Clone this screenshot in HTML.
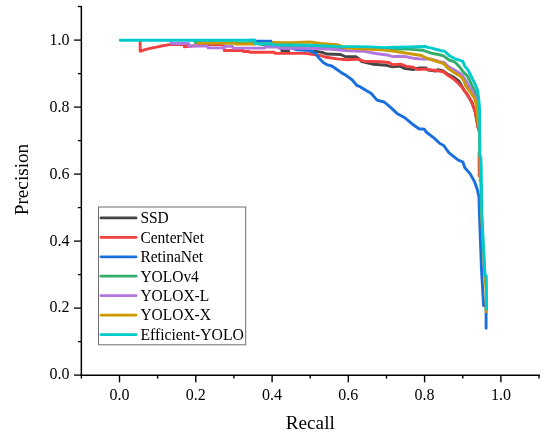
<!DOCTYPE html>
<html><head><meta charset="utf-8"><title>PR curves</title>
<style>
html,body{margin:0;padding:0;background:#fff;}
svg{display:block;}
text{font-family:"Liberation Serif",serif;fill:#000;}
.tk{font-size:16px;}
.lg{font-size:16px;}
.ax{font-size:19.2px;}
</style></head><body>
<svg width="550" height="438" viewBox="0 0 550 438">
<rect width="550" height="438" fill="#fff"/>

<g fill="none" stroke-width="2.9" stroke-linejoin="round" stroke-linecap="round">
<path stroke="#454545" d="M281.7,49.0L281.8,50.6L288.5,50.6L288.7,52.4M311.0,53.0L312.0,52.0L314.4,51.3L322.0,52.4L326.4,54.0L340.5,54.5L345.0,56.5L355.8,56.6L359.0,59.0L361.8,61.6L372.7,64.2L386.4,65.3L392.7,66.9L399.5,66.0L404.0,68.2L413.2,69.5L419.5,68.0L426.0,68.0L428.0,70.0L436.0,71.0L437.7,69.7L442.7,70.7L447.0,73.8L453.7,77.2L459.0,81.2L462.0,86.5L464.0,90.0L467.4,94.7L471.8,102.3L475.3,112.0L477.0,121.5L477.9,127.0"/>
<path stroke="#F14040" d="M140.1,40.6L140.2,51.3L145.0,49.7L150.0,48.4L160.0,46.3L169.5,44.6L184.0,44.2L184.3,46.8L207.7,44.6L223.5,44.6L224.3,50.5L243.0,50.5L243.4,51.5L249.0,51.5L249.5,52.3L274.5,52.3L275.0,53.3L305.8,53.4L310.0,54.0L320.9,55.6L326.4,57.3L337.3,58.9L346.0,59.8L355.8,59.2L359.0,59.4L363.6,61.2L380.0,61.6L389.0,62.5L392.7,64.8L400.5,64.1L406.8,66.4L413.2,67.3L417.7,69.5L425.0,69.1L436.0,70.5L443.6,71.8L448.2,75.5L453.7,79.1L458.2,83.2L462.0,87.4L467.4,94.7L471.8,102.3L475.3,112.0L477.0,121.5L477.9,127.0L479.5,133.0L479.6,151.0L479.1,152.5L479.2,176.0"/>
<path stroke="#1A6FDF" d="M250.0,40.3L255.0,40.3L255.5,41.2L271.0,41.2L271.5,44.5L285.0,45.0L290.0,47.5L297.0,49.9L310.0,50.6L315.5,53.4L318.7,57.8L323.0,62.2L327.4,64.9L331.8,66.0L337.3,69.8L342.7,73.6L345.0,74.6L352.3,80.0L356.9,85.5L359.6,86.4L368.7,91.9L371.5,93.7L377.0,100.1L384.2,102.0L390.6,107.4L397.0,113.4L404.3,117.4L412.5,124.2L418.9,128.8L424.4,129.3L426.2,132.0L434.4,138.4L439.9,143.5L443.7,145.5L449.0,152.9L458.3,160.2L462.9,162.0L464.7,167.5L470.2,173.9L474.7,182.0L477.5,190.3L479.0,197.6L479.3,210.0L481.5,270.0L483.6,305.5L486.1,306.0L486.1,328.2"/>
<path stroke="#37AD6B" d="M194.8,40.6L195.3,42.6L255.0,43.2L268.0,45.5L282.0,46.0L295.0,46.3L340.0,47.5L385.0,48.7L395.0,49.1L408.6,49.1L422.3,50.2L431.4,53.2L438.6,54.5L443.6,55.9L449.1,60.0L454.6,61.8L459.2,66.4L462.8,71.4L467.4,76.0L471.0,83.3L474.2,89.7L476.0,94.3L478.0,102.0L479.4,118.0L479.7,150.0"/>
<path stroke="#B177DE" d="M171.0,40.6L171.5,43.5L188.6,43.5L189.0,46.0L207.5,46.0L208.0,47.9L224.0,47.9L224.5,46.4L232.5,46.4L233.0,48.1L264.5,48.1L265.0,47.0L278.5,47.0L279.0,48.2L310.0,48.3L331.8,49.3L348.0,50.7L363.6,51.2L375.5,53.5L389.0,55.3L392.7,56.6L400.0,56.2L406.8,56.8L413.2,58.2L422.3,59.1L431.4,59.1L438.6,61.4L444.6,62.7L448.2,66.4L455.5,70.5L461.9,74.6L464.6,78.7L468.3,85.1L471.9,90.6L474.7,96.1L476.5,99.7L478.3,108.0L479.4,125.0L479.7,150.0"/>
<path stroke="#CC9900" d="M197.5,40.6L198.0,43.0L235.0,43.0L235.5,44.0L255.0,44.0L255.5,43.6L272.0,43.6L272.5,42.5L290.0,42.6L310.0,42.0L321.0,43.4L337.3,44.7L346.0,48.0L370.0,49.3L381.8,49.8L395.0,51.4L406.8,53.2L421.4,55.5L426.8,58.2L434.0,60.5L440.5,62.7L443.6,63.6L447.3,67.7L453.7,72.3L461.0,76.8L463.7,80.5L465.6,85.6L471.0,93.0L474.8,98.8L476.4,105.2L477.2,112.5L477.9,123.0L479.5,130.0L479.6,145.0L479.6,152.5L480.1,157.0L480.2,181.0L480.8,182.0L481.4,210.0L483.1,245.0L484.8,275.0L486.1,290.0L486.1,311.7"/>
<path stroke="#00CBCC" d="M120.2,40.2L254.8,40.2L255.3,43.6L271.7,43.8L272.2,44.8L285.0,44.9L310.0,45.3L337.0,46.4L370.0,46.9L385.0,47.6L395.0,47.3L410.0,47.0L425.0,46.5L428.0,47.4L431.4,48.2L438.6,50.0L441.0,50.7L444.6,51.3L449.1,55.4L454.6,58.6L458.5,59.8L462.8,61.3L464.6,65.9L468.3,70.5L471.0,76.0L474.7,83.3L477.4,89.7L478.8,98.8L479.5,108.0L479.7,120.0L479.7,140.0L479.8,156.0L480.8,157.0L481.2,166.6L481.7,210.0L483.4,245.0L485.0,275.0L486.3,276.0L486.6,308.9"/>
</g>
<g stroke="#000" stroke-width="1.5" fill="none" stroke-linecap="butt">
<path d="M81.35,6.0 V375.84999999999997"/>
<path d="M80.64999999999999,375.15 H539.8"/>
<path stroke-width="1.4" d="M81.4,375.15 v3.4"/>
<path stroke-width="1.4" d="M119.5,375.15 v7.2"/>
<path stroke-width="1.4" d="M157.6,375.15 v3.4"/>
<path stroke-width="1.4" d="M195.8,375.15 v7.2"/>
<path stroke-width="1.4" d="M233.9,375.15 v3.4"/>
<path stroke-width="1.4" d="M272.1,375.15 v7.2"/>
<path stroke-width="1.4" d="M310.2,375.15 v3.4"/>
<path stroke-width="1.4" d="M348.3,375.15 v7.2"/>
<path stroke-width="1.4" d="M386.5,375.15 v3.4"/>
<path stroke-width="1.4" d="M424.6,375.15 v7.2"/>
<path stroke-width="1.4" d="M462.8,375.15 v3.4"/>
<path stroke-width="1.4" d="M500.9,375.15 v7.2"/>
<path stroke-width="1.4" d="M539.0,375.15 v3.4"/>
<path stroke-width="1.3" d="M81.35,375.1 h-7.4"/>
<path stroke-width="1.3" d="M81.35,341.6 h-3.5"/>
<path stroke-width="1.3" d="M81.35,308.1 h-7.4"/>
<path stroke-width="1.3" d="M81.35,274.6 h-3.5"/>
<path stroke-width="1.3" d="M81.35,241.1 h-7.4"/>
<path stroke-width="1.3" d="M81.35,207.6 h-3.5"/>
<path stroke-width="1.3" d="M81.35,174.1 h-7.4"/>
<path stroke-width="1.3" d="M81.35,140.6 h-3.5"/>
<path stroke-width="1.3" d="M81.35,107.1 h-7.4"/>
<path stroke-width="1.3" d="M81.35,73.6 h-3.5"/>
<path stroke-width="1.3" d="M81.35,40.1 h-7.4"/>
<path stroke-width="1.3" d="M81.35,6.5 h-3.5"/>
</g>
<text class="tk" x="119.5" y="400.1" text-anchor="middle">0.0</text>
<text class="tk" x="69.6" y="379.4" text-anchor="end">0.0</text>
<text class="tk" x="195.8" y="400.1" text-anchor="middle">0.2</text>
<text class="tk" x="69.6" y="312.4" text-anchor="end">0.2</text>
<text class="tk" x="272.1" y="400.1" text-anchor="middle">0.4</text>
<text class="tk" x="69.6" y="245.5" text-anchor="end">0.4</text>
<text class="tk" x="348.3" y="400.1" text-anchor="middle">0.6</text>
<text class="tk" x="69.6" y="178.5" text-anchor="end">0.6</text>
<text class="tk" x="424.6" y="400.1" text-anchor="middle">0.8</text>
<text class="tk" x="69.6" y="111.5" text-anchor="end">0.8</text>
<text class="tk" x="500.9" y="400.1" text-anchor="middle">1.0</text>
<text class="tk" x="69.6" y="44.5" text-anchor="end">1.0</text>
<text class="ax" x="310.3" y="429.1" text-anchor="middle">Recall</text>
<text class="ax" transform="translate(27.9,179.5) rotate(-90)" text-anchor="middle">Precision</text>
<rect x="98.5" y="207" width="147.2" height="137.8" fill="#fff" stroke="#6e6e6e" stroke-width="1"/>
<path d="M100.9,217.9 H136.1" stroke="#454545" stroke-width="2.7" stroke-linecap="round" fill="none"/>
<text class="lg" transform="translate(140.4,223.2) scale(0.968,1)">SSD</text>
<path d="M100.9,237.3 H136.1" stroke="#F14040" stroke-width="2.7" stroke-linecap="round" fill="none"/>
<text class="lg" transform="translate(140.4,242.7) scale(0.968,1)">CenterNet</text>
<path d="M100.9,256.8 H136.1" stroke="#1A6FDF" stroke-width="2.7" stroke-linecap="round" fill="none"/>
<text class="lg" transform="translate(140.4,262.1) scale(0.968,1)">RetinaNet</text>
<path d="M100.9,276.2 H136.1" stroke="#37AD6B" stroke-width="2.7" stroke-linecap="round" fill="none"/>
<text class="lg" transform="translate(140.4,281.6) scale(0.968,1)">YOLOv4</text>
<path d="M100.9,295.7 H136.1" stroke="#B177DE" stroke-width="2.7" stroke-linecap="round" fill="none"/>
<text class="lg" transform="translate(140.4,301.0) scale(0.968,1)">YOLOX-L</text>
<path d="M100.9,315.1 H136.1" stroke="#CC9900" stroke-width="2.7" stroke-linecap="round" fill="none"/>
<text class="lg" transform="translate(140.4,320.4) scale(0.968,1)">YOLOX-X</text>
<path d="M100.9,334.6 H136.1" stroke="#00CBCC" stroke-width="2.7" stroke-linecap="round" fill="none"/>
<text class="lg" transform="translate(140.4,339.9) scale(0.982,1)">Efficient-YOLO</text>
</svg></body></html>
